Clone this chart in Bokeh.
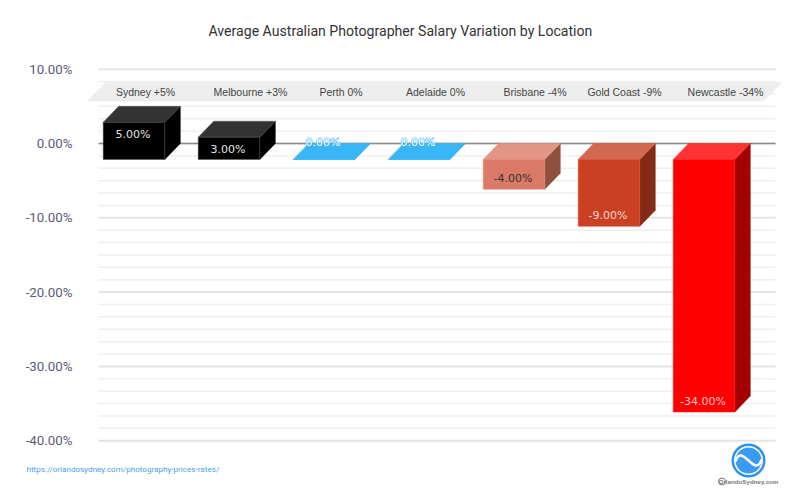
from bokeh.plotting import figure
from bokeh.models import Range1d, FixedTicker, PrintfTickFormatter
from bokeh.core.properties import value
from bokeh.embed import file_html
from bokeh.resources import INLINE

# ---- data
categories = ["Sydney +5%", "Melbourne +3%", "Perth 0%", "Adelaide 0%", "Brisbane -4%", "Gold Coast -9%", "Newcastle -34%"]
values = [5, 3, 0, 0, -4, -9, -34]
bar_labels = ["5.00%", "3.00%", "0.00%", "0.00%", "-4.00%", "-9.00%", "-34.00%"]
y_ticks = [10, 0, -10, -20, -30, -40]
y_minor = [v / 6 * 10 for v in range(-24, 7) if v % 6 != 0]
front_colors = ["#000000", "#000000", "#38b6f5", "#38b6f5", "#db7a66", "#cb3f22", "#ff0000"]
top_colors = ["#333333", "#333333", "#38b6f5", "#38b6f5", "#e39585", "#d36850", "#ff3333"]
side_colors = ["#000000", "#000000", "#38b6f5", "#38b6f5", "#8f5040", "#842a17", "#a30000"]
edge_colors = ["#555555", "#555555", "#38b6f5", "#38b6f5", "#e08a78", "#d3553a", "#ff2222"]
label_colors = ["#e4e4e4", "#e4e4e4", "#ffffff", "#ffffff", "#333333", "#f3d6cf", "#ffc8c8"]
cat_label_shift = [11.5, 21.5, 17, 16.5, 21, 15.5, 21.5]

# ---- layout (page pixels)
W, H = 792, 490
LEFT, TOP = 20, 43
PX_Y = 7.43
PX_X = 95.0
ZERO_PX = 143.0
FIRST_PX = 133.5
DEPTH_X = 15.5 / PX_X
DEPTH_Y = 16 / PX_Y
HALF = 30.8 / PX_X


def dx(px):
    return (px - FIRST_PX) / PX_X


def dy(px):
    return (ZERO_PX - px) / PX_Y


p = figure(width=W, height=H, output_backend="svg", toolbar_location=None,
           x_range=Range1d(dx(LEFT), dx(W)),
           y_range=Range1d(dy(H), dy(TOP)),
           min_border_left=LEFT, min_border_right=0, min_border_top=TOP, min_border_bottom=0,
           title="Average Australian Photographer Salary Variation by Location")
p.outline_line_color = None
p.background_fill_color = None
p.border_fill_color = "white"
p.title.align = "left"
p.title.offset = 188
p.title.text_font = "Roboto"
p.title.text_font_size = "14.1px"
p.title.text_font_style = "normal"
p.title.text_color = "#333333"

p.xaxis.visible = False
p.xgrid.visible = False
p.ygrid.visible = False

ax = p.yaxis[0]
ax.ticker = FixedTicker(ticks=y_ticks)
ax.formatter = PrintfTickFormatter(format="%.2f%%")
ax.axis_line_color = None
ax.major_tick_line_color = None
ax.minor_tick_line_color = None
ax.major_tick_out = 0
ax.major_label_text_font = "Roboto"
ax.major_label_text_font_size = "13.3px"
ax.major_label_text_color = "#5a5a78"
ax.major_label_standoff = LEFT - 72

# grid lines stop short of the frame, so they are drawn from the tick lists
gl, gr = dx(98), dx(775)
p.segment([gl] * len(y_minor), y_minor, [gr] * len(y_minor), y_minor, line_color="#efefef", line_width=1.5)
p.segment([gl] * len(y_ticks), y_ticks, [gr] * len(y_ticks), y_ticks, line_color="#e4e4e4", line_width=2)

# floor band that carries the category labels
band_t, band_b = dy(81.7), dy(100.7)
p.patch([dx(86), dx(105), dx(782), dx(763)], [band_b, band_t, band_t, band_b],
        fill_color="#eeeeee", line_color=None)

# zero line (on the back plane)
p.segment([gl], [0], [gr], [0], line_color="#8c8c8c", line_width=1.3)

# bars: a front, a top and a side face from each value
xs_front, ys_front, xs_top, ys_top, xs_side, ys_side = [], [], [], [], [], []
for i, v in enumerate(values):
    l, r = i - HALF, i + HALF
    hi = max(v, 0)
    lo = min(v, 0)
    xs_front.append([l, r, r, l])
    ys_front.append([hi - DEPTH_Y, hi - DEPTH_Y, lo - DEPTH_Y, lo - DEPTH_Y])
    xs_top.append([l, l + DEPTH_X, r + DEPTH_X, r])
    ys_top.append([hi - DEPTH_Y, hi, hi, hi - DEPTH_Y])
    xs_side.append([r, r + DEPTH_X, r + DEPTH_X, r])
    ys_side.append([hi - DEPTH_Y, hi, lo, lo - DEPTH_Y])

p.patches(xs_side, ys_side, fill_color=side_colors, line_color=side_colors, line_width=0.5)
p.patches(xs_top, ys_top, fill_color=top_colors, line_color=edge_colors, line_width=0.5)
p.patches(xs_front, ys_front, fill_color=front_colors, line_color=edge_colors, line_width=0.5)

# category labels
p.text(x=list(range(len(categories))), y=[(band_t + band_b) / 2] * len(categories), text=categories,
       x_offset=cat_label_shift, text_align="center", text_baseline="middle",
       text_font=value("Liberation Sans"), text_font_size="10.5px", text_color="#444444")

# value labels
lab_y = [(v - DEPTH_Y) if v != 0 else 0 for v in values]
lab_off = [12.5 if v > 0 else (-10.5 if v < 0 else -1) for v in values]
lab_x = [i - 0.01 for i in range(len(values))]
solid = [i for i, v in enumerate(values) if v != 0]
zero = [i for i, v in enumerate(values) if v == 0]
p.text(x=[lab_x[i] for i in solid], y=[lab_y[i] for i in solid], text=[bar_labels[i] for i in solid],
       y_offset=[lab_off[i] for i in solid], text_color=[label_colors[i] for i in solid],
       text_align="center", text_baseline="middle",
       text_font=value("DejaVu Sans"), text_font_size="11px")
p.text(x=[lab_x[i] for i in zero], y=[lab_y[i] for i in zero], text=[bar_labels[i] for i in zero],
       y_offset=[lab_off[i] for i in zero], text_color="#38b6f5",
       text_outline_color="#38b6f5",
       text_align="center", text_baseline="middle",
       text_font=value("DejaVu Sans"), text_font_size="11px")
p.text(x=[lab_x[i] for i in zero], y=[lab_y[i] for i in zero], text=[bar_labels[i] for i in zero],
       y_offset=[lab_off[i] for i in zero], text_color=[label_colors[i] for i in zero],
       text_align="center", text_baseline="middle",
       text_font=value("DejaVu Sans"), text_font_size="11px")

# source link
p.text(x=[dx(26)], y=[dy(468)], text=["https://orlandosydney.com/photography-prices-rates/"],
       text_align="left", text_baseline="middle", text_font=value("Roboto"), text_font_size="8.1px",
       text_color="#4a9ff0")

# logo
p.scatter([dx(748)], [dy(460)], size=34, fill_color="#2b93ee", line_color=None)
p.scatter([dx(748)], [dy(460)], size=29, fill_color="#ffffff", line_color=None)
p.scatter([dx(748)], [dy(460)], size=26, fill_color="#3a9cf0", line_color=None)
p.bezier(x0=[dx(735)], y0=[dy(461)], x1=[dx(761)], y1=[dy(459)],
         cx0=[dx(741)], cy0=[dy(441)], cx1=[dx(755)], cy1=[dy(479)],
         line_color="white", line_width=2.5)
p.scatter([dx(721.5)], [dy(481)], size=7, fill_color=None, line_color="#777777", line_width=1)
p.text(x=[dx(748)], y=[dy(481)], text=["OrlandoSydney.com"], text_align="center", text_baseline="middle",
       text_font=value("Liberation Sans"), text_font_size="6.2px", text_font_style="bold", text_color="#777777")

open("out.html", "w").write(file_html(p, INLINE))
